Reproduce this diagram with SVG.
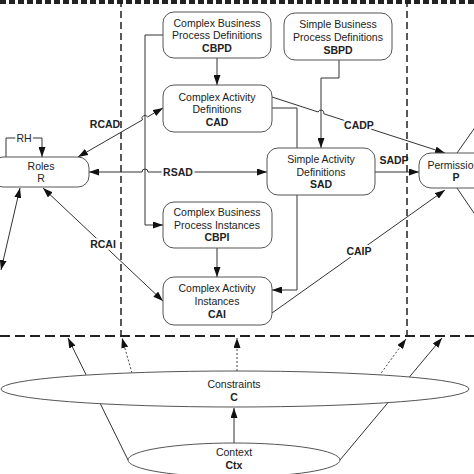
<svg xmlns="http://www.w3.org/2000/svg" width="474" height="474" viewBox="0 0 474 474">
<defs>
<marker id="ah" viewBox="0 0 10 7" refX="10" refY="3.5" markerWidth="10" markerHeight="7" markerUnits="userSpaceOnUse" orient="auto-start-reverse">
<path d="M0,0 L10,3.5 L0,7 z" fill="#111"/>
</marker>
<style>
.t{font-family:"Liberation Sans",Arial,sans-serif;font-size:10.5px;fill:#222;text-anchor:middle}
.b{font-weight:bold}
.lb{font-family:"Liberation Sans",Arial,sans-serif;font-size:10.5px;font-weight:bold;fill:#222;text-anchor:middle}
.halo{stroke:#fff;stroke-width:4;paint-order:stroke}
.box{fill:#fff;stroke:#555;stroke-width:1}
.ln{fill:none;stroke:#333;stroke-width:1}
.dot{fill:none;stroke:#444;stroke-width:1;stroke-dasharray:2 2}
.arr{marker-end:url(#ah)}
.arr2{marker-start:url(#ah);marker-end:url(#ah)}
</style>
</defs>
<rect width="474" height="474" fill="#fff"/>
<g id="boundaries" fill="none" stroke="#222">
<line x1="0" y1="2" x2="474" y2="2" stroke-width="4" stroke-dasharray="6 3"/>
<line x1="121" y1="0" x2="121" y2="336" stroke-width="1.5" stroke-dasharray="7 4"/>
<line x1="407" y1="0" x2="407" y2="336" stroke-width="1.5" stroke-dasharray="7 4"/>
<line x1="0" y1="336" x2="474" y2="336" stroke-width="1.8" stroke-dasharray="10 5"/>
</g>
<g id="connectors">
<path class="ln arr" d="M217,58 L217,85"/>
<path class="ln arr" d="M217,248 L217,277"/>
<path class="ln arr" d="M163,35 L145,35 L145,225 L163,225"/>
<path class="ln arr" d="M339,60 L339,78 L321,78 L321,148"/>
<path class="ln arr" d="M272,108 L297,108 L297,290 L272,290"/>
<path class="ln arr2" d="M163,108 L147.6,116.9 A3,3 0 0 0 142.4,119.9 L78,157"/>
<path class="ln arr2" d="M267,172 L148,172 A3,3 0 0 0 142,172 L89,172"/>
<path class="ln arr2" d="M163,301 L43,188"/>
<path class="ln arr2" d="M20,188 L1,270"/>
<path class="ln arr" d="M272,97 L318.15,111.98 A3,3 0 0 1 323.85,113.82 L445,153"/>
<path class="ln arr" d="M375,172 L419,172"/>
<path class="ln arr" d="M272,313 L445,190"/>
<path class="ln arr" d="M6,157 L6,138 L42,138 L42,157"/>
<path class="ln" d="M457,153 L476,126 M457,188 L476,216"/>
<path class="ln arr" d="M128,460 L68,338"/>
<path class="ln arr" d="M340,460 L442,338"/>
<path class="dot arr" d="M132,373 L122,338"/>
<path class="dot arr" d="M237,371 L237,338"/>
<path class="dot arr" d="M379,376 L406,339"/>
<text class="t halo" x="24" y="142">RH</text>
<text class="lb" x="105" y="128">RCAD</text>
<text class="lb halo" x="178" y="176">RSAD</text>
<text class="lb halo" x="103" y="248">RCAI</text>
<text class="lb halo" x="359" y="129">CADP</text>
<text class="lb" x="394" y="164">SADP</text>
<text class="lb halo" x="359" y="255">CAIP</text>
</g>
<g id="CBPD">
<rect class="box" x="163" y="12" width="108" height="46" rx="11"/>
<text class="t" x="217" y="26.5">Complex Business</text>
<text class="t" x="217" y="39">Process Definitions</text>
<text class="t b" x="217" y="52">CBPD</text>
</g>
<g id="SBPD">
<rect class="box" x="284" y="13" width="108" height="47" rx="11"/>
<text class="t" x="338" y="28">Simple Business</text>
<text class="t" x="338" y="40.5">Process Definitions</text>
<text class="t b" x="338" y="53.5">SBPD</text>
</g>
<g id="CAD">
<rect class="box" x="163" y="85" width="109" height="47" rx="11"/>
<text class="t" x="217" y="100.5">Complex Activity</text>
<text class="t" x="217" y="113">Definitions</text>
<text class="t b" x="217" y="125.5">CAD</text>
</g>
<g id="R">
<rect class="box" x="-8" y="157" width="97" height="30" rx="11"/>
<text class="t" x="41" y="170">Roles</text>
<text class="t" x="41" y="182">R</text>
</g>
<g id="SAD">
<rect class="box" x="267" y="148" width="108" height="47" rx="11"/>
<text class="t" x="321" y="163">Simple Activity</text>
<text class="t" x="321" y="175.5">Definitions</text>
<text class="t b" x="321" y="188">SAD</text>
</g>
<g id="P">
<rect class="box" x="419" y="153" width="80" height="35" rx="12"/>
<text class="t" x="456" y="169">Permissions</text>
<text class="t b" x="456" y="181">P</text>
</g>
<g id="CBPI">
<rect class="box" x="163" y="202" width="109" height="46" rx="11"/>
<text class="t" x="217" y="216">Complex Business</text>
<text class="t" x="217" y="228.5">Process Instances</text>
<text class="t b" x="217" y="241">CBPI</text>
</g>
<g id="CAI">
<rect class="box" x="163" y="277" width="109" height="48" rx="11"/>
<text class="t" x="217" y="292">Complex Activity</text>
<text class="t" x="217" y="304.5">Instances</text>
<text class="t b" x="217" y="317.5">CAI</text>
</g>
<g id="C">
<ellipse class="box" cx="235" cy="389" rx="234" ry="18"/>
<text class="t" x="234" y="388">Constraints</text>
<text class="t b" x="234" y="401">C</text>
</g>
<g id="Ctx">
<path class="ln arr" d="M234,443 L234,408"/>
<ellipse class="box" cx="234" cy="460" rx="106" ry="17"/>
<text class="t" x="234" y="456">Context</text>
<text class="t b" x="234" y="469">Ctx</text>
</g>
</svg>
